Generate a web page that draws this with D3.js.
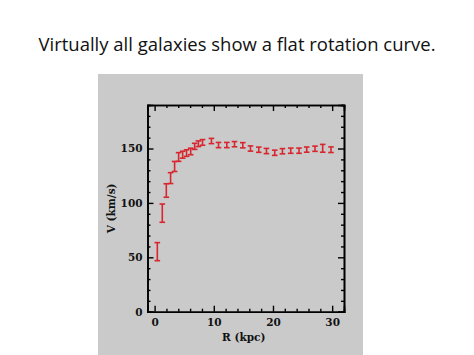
<!DOCTYPE html>
<html><head><meta charset="utf-8">
<script src="https://cdn.jsdelivr.net/npm/d3@7"></script>
<style>body{margin:0;background:#fff;}svg{display:block;}</style>
</head><body>
<svg id="c" width="474" height="355"></svg>
<script>
const radius = [0.46,1.3,1.98,2.7,3.38,4.06,4.74,5.4,6.1,6.77,7.4,8.1,9.6,10.8,12.2,13.5,14.9,16.2,17.6,18.9,20.3,21.6,23.0,24.4,25.7,27.1,28.4,29.8];
const velocity = [55.2,90.6,111.4,122.8,133.5,142.2,144.3,145.8,147.3,152.0,154.4,155.6,156.9,153.2,153.2,154.0,153.0,150.0,148.9,147.7,146.1,147.5,148.0,148.0,149.0,149.8,150.2,148.9];
const errors = [8.3,8.4,6.2,5.0,4.6,4.0,3.2,3.0,3.0,2.8,2.6,2.6,2.4,2.4,2.4,2.4,2.4,2.4,2.4,2.4,2.4,2.4,2.4,2.4,2.4,2.4,3.6,2.6];
const xMajorTicks = [0,10,20,30];
const yMajorTicks = [0,50,100,150];
const titleText = "Virtually all galaxies show a flat rotation curve.";

const svg = d3.select("#c");
svg.append("text").attr("x",237).attr("y",51).attr("text-anchor","middle")
  .attr("font-family","'Open Sans', sans-serif").attr("font-size",17.5).attr("fill","#111")
  .attr("textLength",397).attr("lengthAdjust","spacingAndGlyphs").text(titleText);

svg.append("rect").attr("x",98).attr("y",74).attr("width",265).attr("height",281).attr("fill","#cacaca");

const L=147.5,R=344,T=105,B=311.7;
const x = d3.scaleLinear().domain([-1.2,32]).range([L,R]);
const y = d3.scaleLinear().domain([0,190]).range([B,T]);
const g = svg.append("g");

const font = "'DejaVu Serif', serif";
const minorX = d3.range(0,32,2).filter(v=>v%10);
const minorY = d3.range(0,191,10).filter(v=>v%50);
const axB = d3.axisBottom(x).tickValues(xMajorTicks).tickSize(-6).tickPadding(7).tickFormat(d3.format("d"));
const axBm = d3.axisBottom(x).tickValues(minorX).tickSize(-3).tickFormat("");
const axT = d3.axisTop(x).tickValues(xMajorTicks).tickSize(-6).tickFormat("");
const axTm = d3.axisTop(x).tickValues(minorX).tickSize(-3).tickFormat("");
const axL = d3.axisLeft(y).tickValues(yMajorTicks).tickSize(-6).tickPadding(5).tickFormat(d3.format("d"));
const axLm = d3.axisLeft(y).tickValues(minorY).tickSize(-3).tickFormat("");
const axR = d3.axisRight(y).tickValues(yMajorTicks).tickSize(-6).tickFormat("");
const axRm = d3.axisRight(y).tickValues(minorY).tickSize(-3).tickFormat("");

function style(sel){
  sel.selectAll(".domain").attr("stroke","#000").attr("stroke-width",1.6);
  sel.selectAll(".tick line").attr("stroke","#000").attr("stroke-width",1.4);
  sel.selectAll(".tick text").attr("font-family",font).attr("font-weight","bold").attr("font-size",10.5).attr("fill","#111");
}
[[axB,`translate(0,${B})`],[axBm,`translate(0,${B})`],[axT,`translate(0,${T})`],[axTm,`translate(0,${T})`],
 [axL,`translate(${L},0)`],[axLm,`translate(${L},0)`],[axR,`translate(${R},0)`],[axRm,`translate(${R},0)`]]
 .forEach(([a,t])=>{ g.append("g").attr("transform",t).call(a).call(style); });

svg.append("text").attr("x",(L+R)/2-2).attr("y",341).attr("text-anchor","middle")
  .attr("font-family",font).attr("font-weight","bold").attr("font-size",10.5).attr("fill","#111").text("R (kpc)");
svg.append("text").attr("transform",`translate(115,${(T+B)/2}) rotate(-90)`).attr("text-anchor","middle")
  .attr("font-family",font).attr("font-weight","bold").attr("font-size",10.5).attr("fill","#111").text("V (km/s)");

const data = radius.map((r,i)=>({r, v:velocity[i], e:errors[i]}));
const eb = svg.append("g").attr("stroke","#d8262e").attr("stroke-width",1.6).attr("fill","none");
const pts = eb.selectAll("g").data(data).join("g");
pts.append("line").attr("x1",d=>x(d.r)).attr("x2",d=>x(d.r)).attr("y1",d=>y(d.v-d.e)).attr("y2",d=>y(d.v+d.e));
pts.append("line").attr("x1",d=>x(d.r)-2.8).attr("x2",d=>x(d.r)+2.8).attr("y1",d=>y(d.v-d.e)).attr("y2",d=>y(d.v-d.e));
pts.append("line").attr("x1",d=>x(d.r)-2.8).attr("x2",d=>x(d.r)+2.8).attr("y1",d=>y(d.v+d.e)).attr("y2",d=>y(d.v+d.e));
</script>
</body></html>
